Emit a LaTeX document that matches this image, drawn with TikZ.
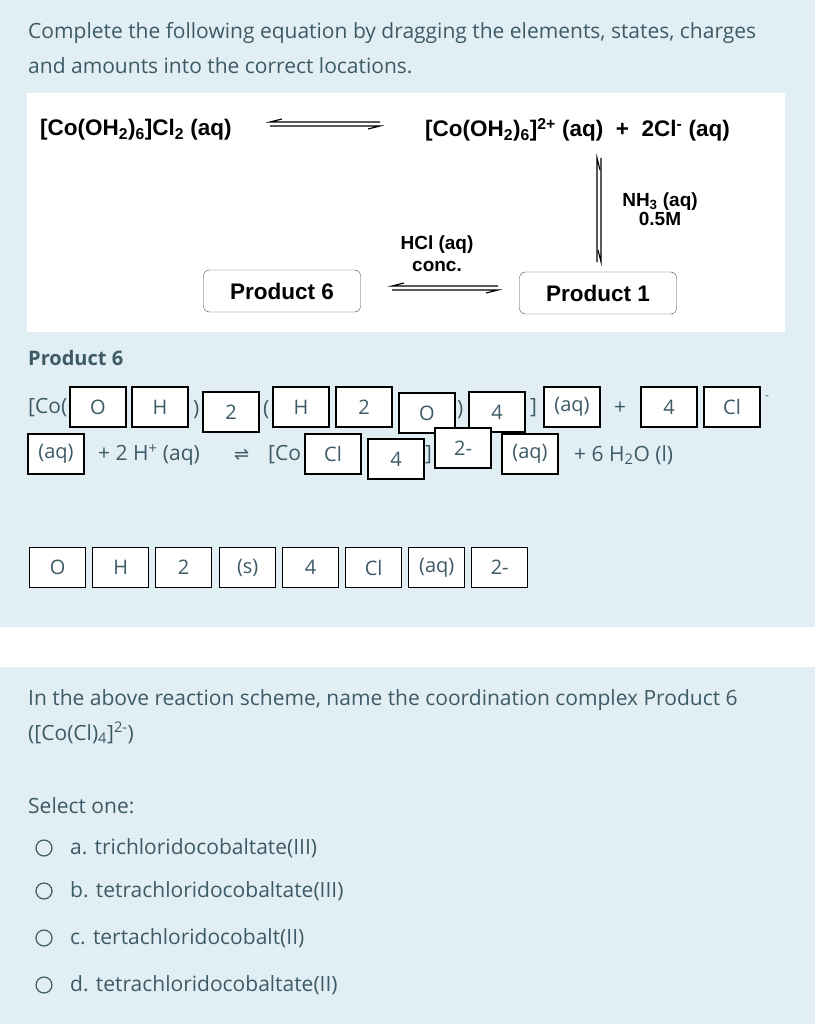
\documentclass[tikz,border=0pt]{standalone}
\usepackage{fontspec}
\setmainfont{Open Sans}
\newfontfamily\arialf{Liberation Sans}
\newfontfamily\djv{DejaVu Sans}
\definecolor{bgc}{HTML}{E1EFF5}
\definecolor{txc}{HTML}{3D5A66}
\begin{document}
\begin{tikzpicture}[x=1pt,y=-1pt,
  txt/.style={anchor=west,inner sep=0pt,text=txc,font=\fontsize{21}{24}\selectfont},
  sch/.style={inner sep=0pt,font=\arialf\bfseries\fontsize{22.5}{25}\selectfont},
  dbox/.style={draw=black,line width=1.4pt,fill=white,minimum width=56pt,minimum height=40pt,inner sep=0pt,text=txc,font=\fontsize{20}{24}\selectfont},
  prod/.style={draw=black!70,rounded corners=6pt,minimum width=157pt,minimum height=42pt,inner sep=0pt,font=\arialf\bfseries\fontsize{22.5}{25}\selectfont},
  radio/.style={circle,draw=txc,line width=1.2pt,minimum size=16pt,inner sep=0pt},
  eq/.style={line width=1.1pt}]
\useasboundingbox (0,0) rectangle (815,1024);
\fill[bgc] (0,0) rectangle (815,627);
\fill[white] (0,627) rectangle (815,667);
\fill[bgc] (0,667) rectangle (815,1024);
\fill[white] (27,93) rectangle (785,332);
% intro
\node[txt] (t1) at (28,33) {Complete the following equation by dragging the elements, states, charges};
\node[txt] (t2) at (28,66) {and amounts into the correct locations.};
% scheme
\node[sch,anchor=west] (r1) at (40,130) {[Co(OH\textsubscript{2})\textsubscript{6}]Cl\textsubscript{2}\ (aq)};
\node[sch,anchor=west] (r2) at (425,130) {[Co(OH\textsubscript{2})\textsubscript{6}]\textsuperscript{2+}\ (aq)\ \ +\ \ 2Cl\textsuperscript{-}\ (aq)};
\coordinate (a1) at (270,126); \coordinate (a2) at (380,126);
\draw[eq] (a1) -- (a2) -- ++(-12,3);
\draw[eq] ([yshift=4pt]a2) -- ([yshift=4pt]a1) -- ++(12,-3);
\node[prod] (p6) at (282,291) {Product 6};
\node[prod] (p1) at (598,293) {Product 1};
\coordinate (h1) at (392,290); \coordinate (h2) at (498,290);
\draw[eq] (h1) -- (h2) -- ++(-12,3);
\draw[eq] ([yshift=4pt]h2) -- ([yshift=4pt]h1) -- ++(12,-3);
\coordinate (v1) at (597,262); \coordinate (v2) at (597,158);
\draw[eq] (v1) -- (v2) -- ++(3,12);
\draw[eq] ([xshift=4pt]v2) -- ([xshift=4pt]v1) -- ++(-3,-12);
\node[sch,align=center,font=\arialf\bfseries\fontsize{19}{19}\selectfont] (nh) at (660,209) {NH\textsubscript{3} (aq)\\0.5M};
\node[sch,align=center,font=\arialf\bfseries\fontsize{19}{22}\selectfont] (hc) at (437,254) {HCl (aq)\\conc.};
% product 6 label
\node[txt,font=\bfseries\fontsize{20}{24}\selectfont] (lp6) at (28,358) {Product 6};
% row 1
\node[txt] (c1) at (28,408) {[Co(};
\node[dbox] (b1) at (98,407) {O};
\node[dbox] (b2) at (160,407) {H};
\node[txt] (c2) at (193,410) {)};
\node[dbox] (b3) at (231,412) {2};
\node[txt] (c3) at (263,410) {(};
\node[dbox] (b4) at (301,407) {H};
\node[dbox] (b5) at (364,407) {2};
\node[dbox] (b6) at (427,413) {O};
\node[txt] (c4) at (457,410) {)};
\node[dbox] (b7) at (497,412) {4};
\node[txt] (c5) at (530,408) {]};
\node[dbox] (b8) at (572,407) {(aq)};
\node[txt] (c6) at (614,408) {+};
\node[dbox] (b9) at (669,407) {4};
\node[dbox] (b10) at (732,407) {Cl};
\node[txt] (c7) at (765,398) {\fontsize{12}{12}\selectfont -};
% row 2
\node[dbox] (d1) at (56,454) {(aq)};
\node[txt] (e1) at (98,455) {+\ 2 H\textsuperscript{+} (aq)};
\node[txt] (e2) at (234,455) {\djv\fontsize{18}{18}\selectfont ⇌};
\node[txt] (e3) at (268,455) {[Co};
\node[dbox] (d2) at (333,454) {Cl};
\node[dbox] (d3) at (396,459) {4};
\node[txt] (e4) at (425,455) {]};
\node[dbox] (d4) at (463,448) {2-};
\node[dbox] (d5) at (530,454) {(aq)};
\node[txt] (e5) at (574,455) {+\ 6 H\textsubscript{2}O (l)};
% row 3
\foreach \n/\xx/\l in {1/29/O,2/92/H,3/155/2,4/219/(s),5/282/4,6/345/Cl,7/408/(aq),8/471/2-}
  \node[dbox,anchor=north west] (f\n) at (\xx,547) {\l};
% question
\node[txt] (q1) at (28,700) {In the above reaction scheme, name the coordination complex Product 6};
\node[txt] (q2) at (28,733) {([Co(Cl)\textsubscript{4}]\textsuperscript{2-})};
\node[txt] (q3) at (28,806) {Select one:};
\foreach \n/\yy/\l in {a/848/a. trichloridocobaltate(III),b/891/b. tetrachloridocobaltate(III),c/938/c. tertachloridocobalt(II),d/985/d. tetrachloridocobaltate(II)}{
  \node[radio] (o\n) at (44,\yy) {};
  \node[txt] (l\n) at (70,\yy) {\l};
}
\end{tikzpicture}
\end{document}
